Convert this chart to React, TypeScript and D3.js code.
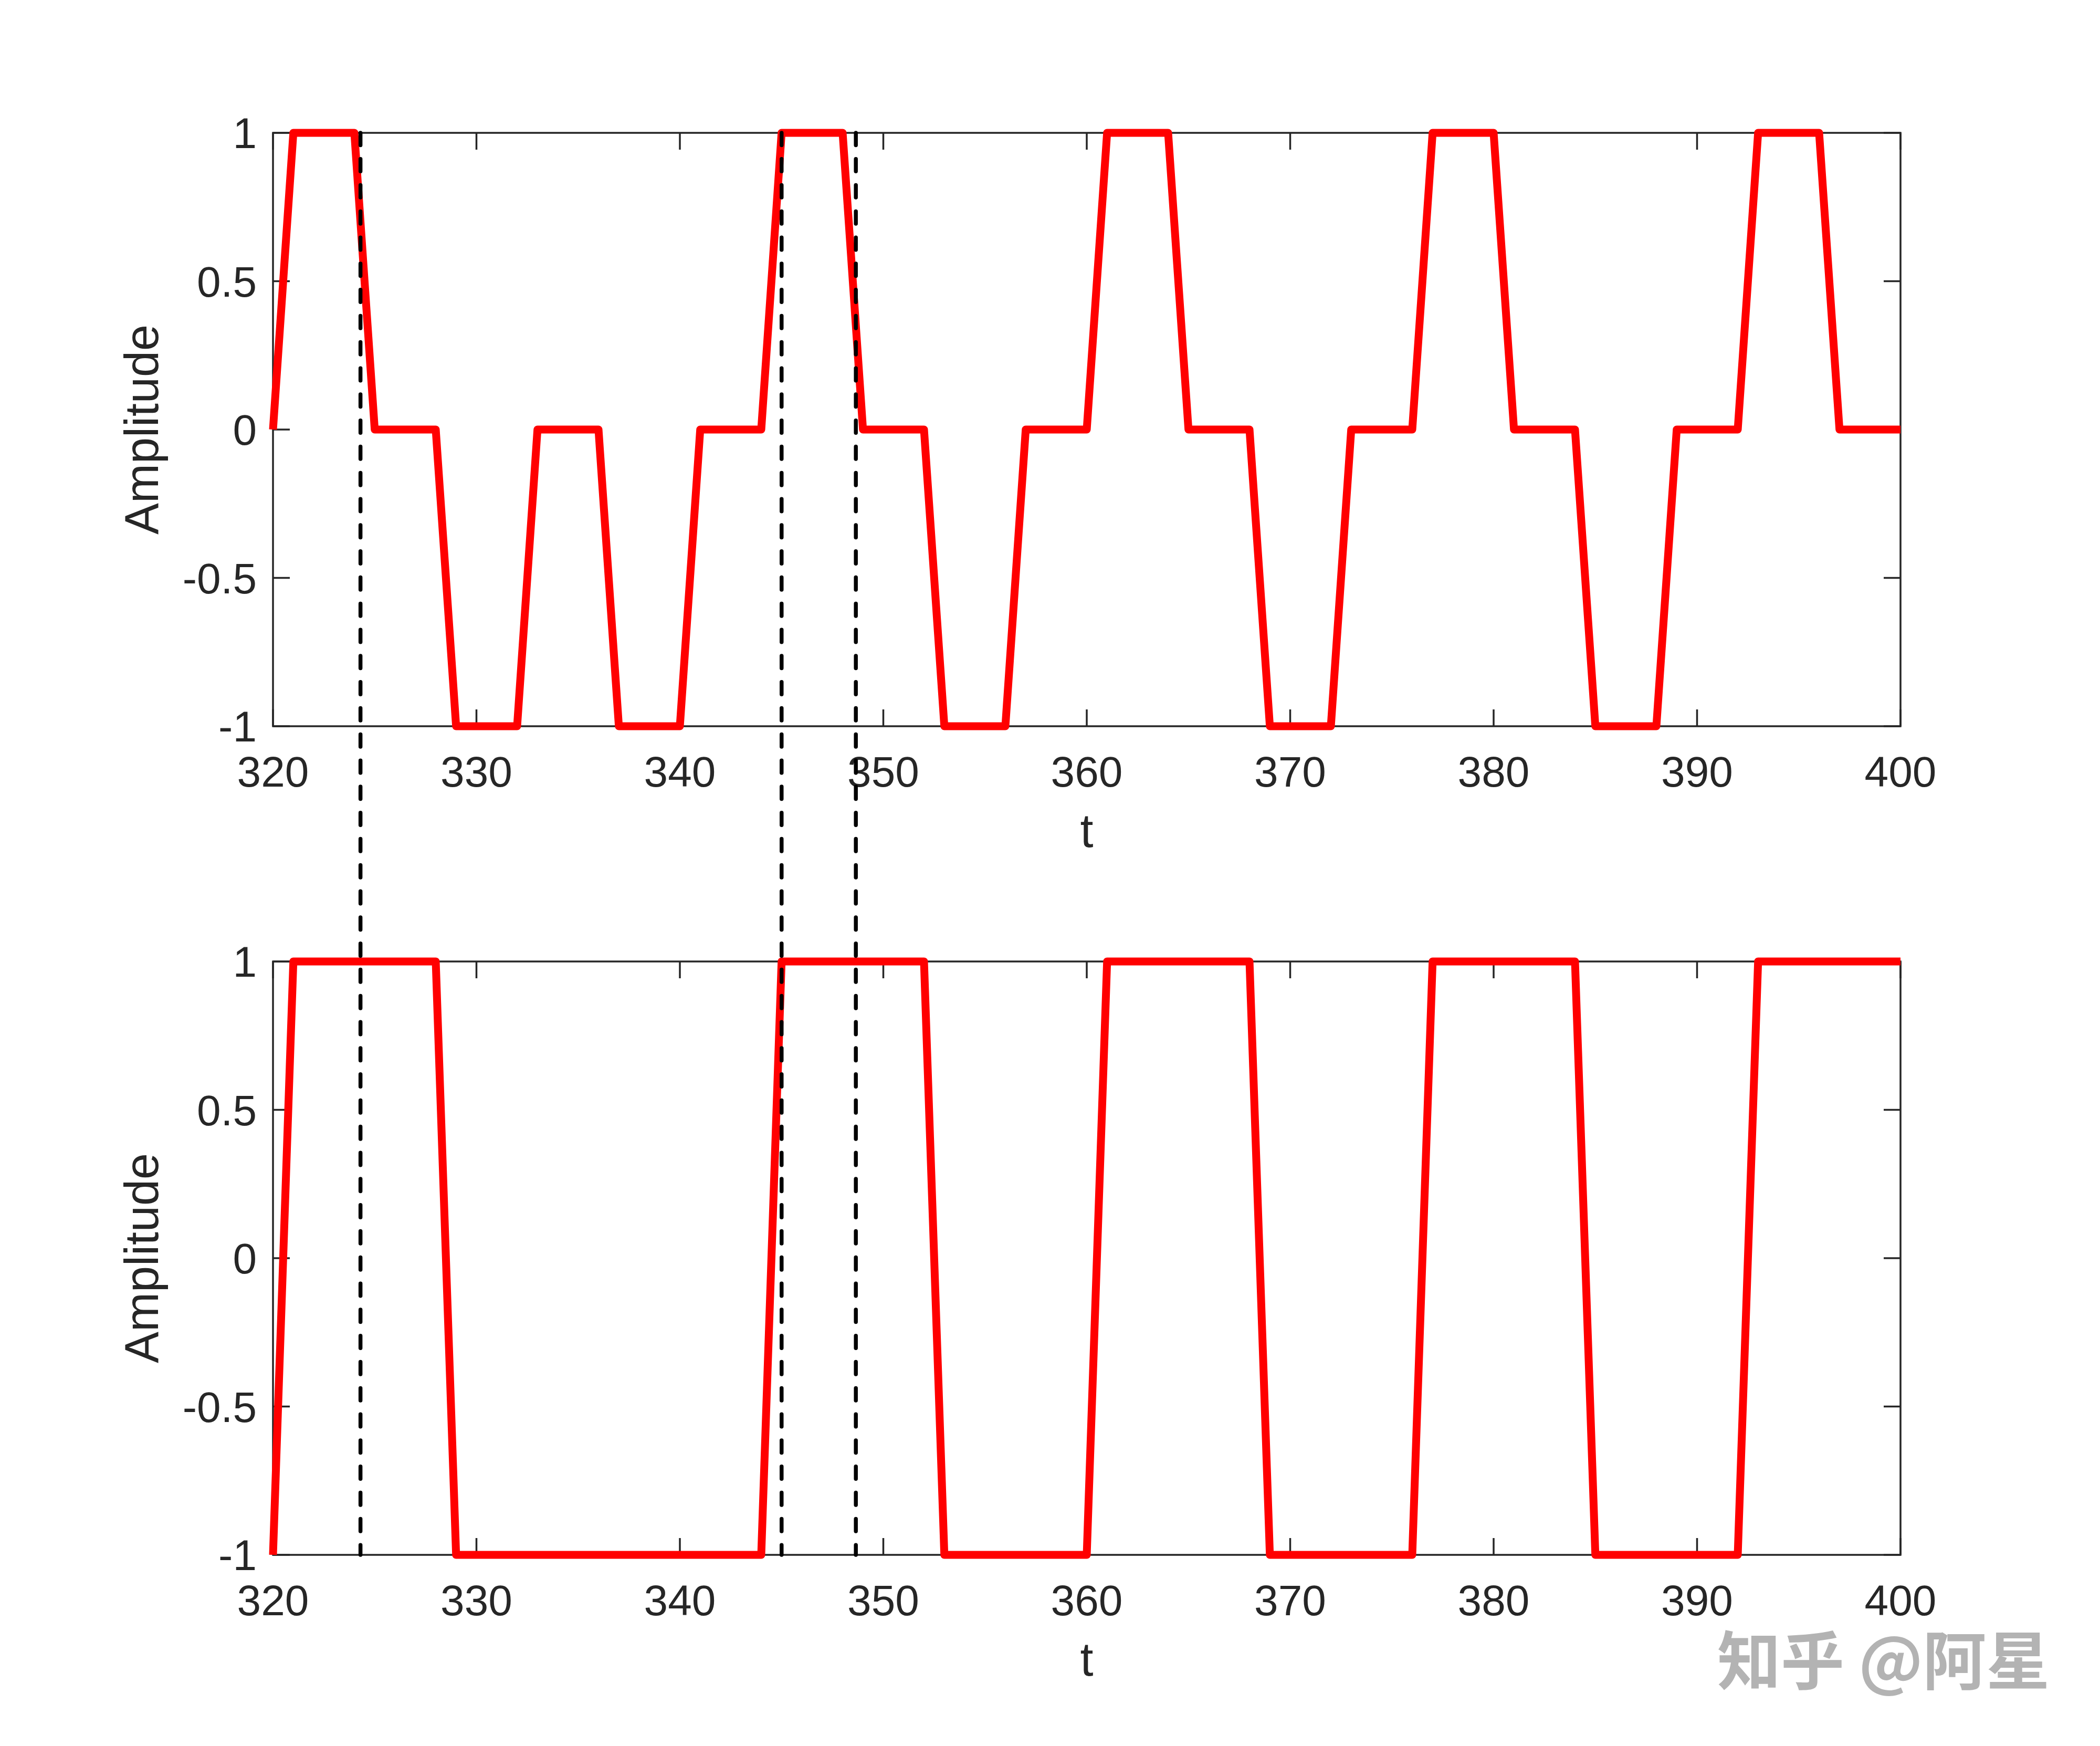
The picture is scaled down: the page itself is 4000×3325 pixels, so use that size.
import React from 'react';
import * as d3 from 'd3';

// ---- data ----
const T = [
  320, 321, 322, 323, 324, 325, 326, 327, 328, 329,
  330, 331, 332, 333, 334, 335, 336, 337, 338, 339,
  340, 341, 342, 343, 344, 345, 346, 347, 348, 349,
  350, 351, 352, 353, 354, 355, 356, 357, 358, 359,
  360, 361, 362, 363, 364, 365, 366, 367, 368, 369,
  370, 371, 372, 373, 374, 375, 376, 377, 378, 379,
  380, 381, 382, 383, 384, 385, 386, 387, 388, 389,
  390, 391, 392, 393, 394, 395, 396, 397, 398, 399,
  400,
];

// upper panel: three-level signal
const SIGNAL_TOP = [
  0, 1, 1, 1, 1, 0, 0, 0, 0, -1,
  -1, -1, -1, 0, 0, 0, 0, -1, -1, -1,
  -1, 0, 0, 0, 0, 1, 1, 1, 1, 0,
  0, 0, 0, -1, -1, -1, -1, 0, 0, 0,
  0, 1, 1, 1, 1, 0, 0, 0, 0, -1,
  -1, -1, -1, 0, 0, 0, 0, 1, 1, 1,
  1, 0, 0, 0, 0, -1, -1, -1, -1, 0,
  0, 0, 0, 1, 1, 1, 1, 0, 0, 0,
  0,
];

// lower panel: two-level signal
const SIGNAL_BOTTOM = [
  -1, 1, 1, 1, 1, 1, 1, 1, 1, -1,
  -1, -1, -1, -1, -1, -1, -1, -1, -1, -1,
  -1, -1, -1, -1, -1, 1, 1, 1, 1, 1,
  1, 1, 1, -1, -1, -1, -1, -1, -1, -1,
  -1, 1, 1, 1, 1, 1, 1, 1, 1, -1,
  -1, -1, -1, -1, -1, -1, -1, 1, 1, 1,
  1, 1, 1, 1, 1, -1, -1, -1, -1, -1,
  -1, -1, -1, 1, 1, 1, 1, 1, 1, 1,
  1,
];

const X_DOMAIN = [320, 400];
const Y_DOMAIN = [-1, 1];
const X_TICKS = [320, 330, 340, 350, 360, 370, 380, 390, 400];
const Y_TICKS = [-1, -0.5, 0, 0.5, 1];
const Y_TICK_LABELS = ['-1', '-0.5', '0', '0.5', '1'];
const MARKER_T = [324.3, 345, 348.65];
const X_LABEL = 't';
const Y_LABEL = 'Amplitude';
const WATERMARK = '知乎 @阿星';

// ---- layout ----
const W = 4000;
const H = 3325;
const LEFT = 520;
const RIGHT = 3620;
const PANELS = [
  { top: 253, bottom: 1383, values: SIGNAL_TOP },
  { top: 1831, bottom: 2961, values: SIGNAL_BOTTOM },
];
const FONT = "Arial, 'Liberation Sans', Helvetica, sans-serif";
const AXIS_COLOR = '#262626';
const TICK_LEN = 32;
const TICK_FS = 82;
const LABEL_FS = 90;

const x = d3.scaleLinear().domain(X_DOMAIN).range([LEFT, RIGHT]);

function Panel({ top, bottom, values }: { top: number; bottom: number; values: number[] }) {
  const y = d3.scaleLinear().domain(Y_DOMAIN).range([bottom, top]);
  const line = d3
    .line<number>()
    .x((_, i) => x(T[i]))
    .y((d) => y(d));
  const path = line(values) || '';
  return (
    <g>
      {/* box */}
      <rect
        x={LEFT}
        y={top}
        width={RIGHT - LEFT}
        height={bottom - top}
        fill="none"
        stroke={AXIS_COLOR}
        strokeWidth={3.5}
      />
      {/* x ticks, bottom and top, inward */}
      {X_TICKS.map((t) => (
        <g key={'xt' + t}>
          <line x1={x(t)} x2={x(t)} y1={bottom} y2={bottom - TICK_LEN} stroke={AXIS_COLOR} strokeWidth={3.5} />
          <line x1={x(t)} x2={x(t)} y1={top} y2={top + TICK_LEN} stroke={AXIS_COLOR} strokeWidth={3.5} />
          <text
            x={x(t)}
            y={bottom + 115}
            textAnchor="middle"
            fontFamily={FONT}
            fontSize={TICK_FS}
            fill={AXIS_COLOR}
          >
            {String(t)}
          </text>
        </g>
      ))}
      {/* y ticks, left and right, inward */}
      {Y_TICKS.map((v, i) => (
        <g key={'yt' + v}>
          <line x1={LEFT} x2={LEFT + TICK_LEN} y1={y(v)} y2={y(v)} stroke={AXIS_COLOR} strokeWidth={3.5} />
          <line x1={RIGHT} x2={RIGHT - TICK_LEN} y1={y(v)} y2={y(v)} stroke={AXIS_COLOR} strokeWidth={3.5} />
          <text
            x={489}
            y={y(v) + 29}
            textAnchor="end"
            fontFamily={FONT}
            fontSize={TICK_FS}
            fill={AXIS_COLOR}
          >
            {Y_TICK_LABELS[i]}
          </text>
        </g>
      ))}
      {/* axis labels */}
      <text
        x={x((X_DOMAIN[0] + X_DOMAIN[1]) / 2)}
        y={bottom + 230}
        textAnchor="middle"
        fontFamily={FONT}
        fontSize={LABEL_FS}
        fill={AXIS_COLOR}
      >
        {X_LABEL}
      </text>
      <text
        transform={`translate(301, ${(top + bottom) / 2}) rotate(-90)`}
        textAnchor="middle"
        fontFamily={FONT}
        fontSize={LABEL_FS}
        fill={AXIS_COLOR}
      >
        {Y_LABEL}
      </text>
      {/* signal */}
      <path d={path} fill="none" stroke="#ff0000" strokeWidth={15} strokeLinejoin="round" strokeLinecap="butt" />
    </g>
  );
}

export default function App() {
  const yTop = PANELS[0].top;
  const yBottom = PANELS[1].bottom;
  return (
    <svg
      width={W}
      height={H}
      viewBox={`0 0 ${W} ${H}`}
      style={{ position: 'absolute', left: 0, top: 0, background: '#ffffff' }}
    >
      <rect x={0} y={0} width={W} height={H} fill="#ffffff" />
      {PANELS.map((p, i) => (
        <Panel key={i} top={p.top} bottom={p.bottom} values={p.values} />
      ))}
      {MARKER_T.map((t) => (
        <line
          key={'m' + t}
          x1={x(t)}
          x2={x(t)}
          y1={yTop}
          y2={yBottom}
          stroke="#000000"
          strokeWidth={7.5}
          strokeDasharray="23.5 26.3"
          strokeLinecap="round"
        />
      ))}
      <text
        x={3271}
        y={3207}
        fontFamily="'Noto Sans CJK SC', sans-serif"
        fontWeight={700}
        fontSize={121}
        fill="#b3b3b3"
      >
        {WATERMARK}
      </text>
    </svg>
  );
}
